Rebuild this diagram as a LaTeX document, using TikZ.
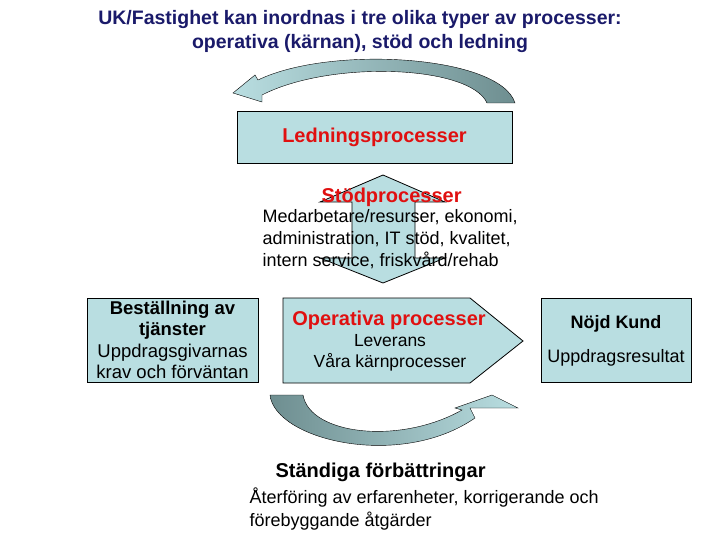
\documentclass[tikz,border=0pt]{standalone}
\usepackage{fontspec}
\setmainfont{Liberation Sans}
\begin{document}
\begin{tikzpicture}[x=1pt,y=-1pt,
  box/.style={draw=black,fill=boxc,line width=0.8pt},
  red/.style={text=redc,font=\fontsize{20}{22}\selectfont\bfseries},
  body/.style={align=center}]
\definecolor{boxc}{HTML}{B9DEE1}
\definecolor{redc}{HTML}{E01010}
\definecolor{darkc}{HTML}{6E8E90}
\definecolor{navy}{HTML}{1A1A6A}
\useasboundingbox (0,0) rectangle (720,540);
% title
\node[font=\fontsize{19.5}{24}\selectfont\bfseries,text=navy,align=center] (title) at (360,32) {UK/Fastighet kan inordnas i tre olika typer av processer:\\operativa (kärnan), stöd och ledning};
% top curved arrow
\shade[left color=boxc,right color=darkc,draw=black,line width=0.4pt]
 (515,103) .. controls (500,55) and (330,45) .. (258,80) -- (255,75) -- (233,93) -- (262,102)
 -- (262,95) .. controls (330,60) and (470,65) .. (487,103) -- cycle;
% Ledning box
\node[box,minimum width=275,minimum height=52,red] (led) at (374.5,137) {Ledningsprocesser};
% double arrow (hexagon)
\draw[box] (383,175) -- (445,202) -- (415,202) -- (415,258) -- (445,258) -- (383,283) -- (320,258) -- (352,258) -- (352,202) -- (320,202) -- cycle;
\node[red,anchor=west] (stod) at (318,197) {Stödprocesser};
\node[font=\fontsize{18}{22}\selectfont,align=left,anchor=north west] (stodt) at (259,206) {Medarbetare/resurser, ekonomi,\\administration, IT stöd, kvalitet,\\intern service, friskvård/rehab};
% left box
\node[box,minimum width=171,minimum height=84,inner sep=0] (best) at (172.5,340) {};
\node[body,font=\fontsize{18.5}{21.5}\selectfont] at (172.5,340) {\textbf{Beställning av}\\\textbf{tjänster}\\Uppdragsgivarnas\\krav och förväntan};
% operativa pentagon
\draw[box] (283,298) -- (470,298) -- (523,341) -- (470,383) -- (283,383) -- cycle;
\node[red] (op) at (389,320) {Operativa processer};
\node[body,font=\fontsize{17.5}{21}\selectfont] (opt) at (390,353) {Leverans\\Våra kärnprocesser};
% right box
\node[box,minimum width=150,minimum height=84] (kund) at (616,340) {};
\node[font=\fontsize{18}{19}\selectfont\bfseries] at (616,324) {Nöjd Kund};
\node[font=\fontsize{18}{19}\selectfont] at (616,358) {Uppdragsresultat};
% bottom curved arrow
\shade[left color=darkc,right color=boxc,draw=black,line width=0.4pt]
 (270,395) .. controls (275,440) and (400,470) .. (475,418) -- (470,408) -- (518,408) -- (492,395) -- (455,408) -- (462,410)
 .. controls (400,445) and (310,435) .. (303,395) -- cycle;
\node[font=\fontsize{20}{22}\selectfont\bfseries,anchor=west] (stand) at (272,472) {Ständiga förbättringar};
\node[font=\fontsize{18}{23}\selectfont,align=left,anchor=north west] (standt) at (246,484) {Återföring av erfarenheter, korrigerande och\\förebyggande åtgärder};
\end{tikzpicture}
\end{document}
